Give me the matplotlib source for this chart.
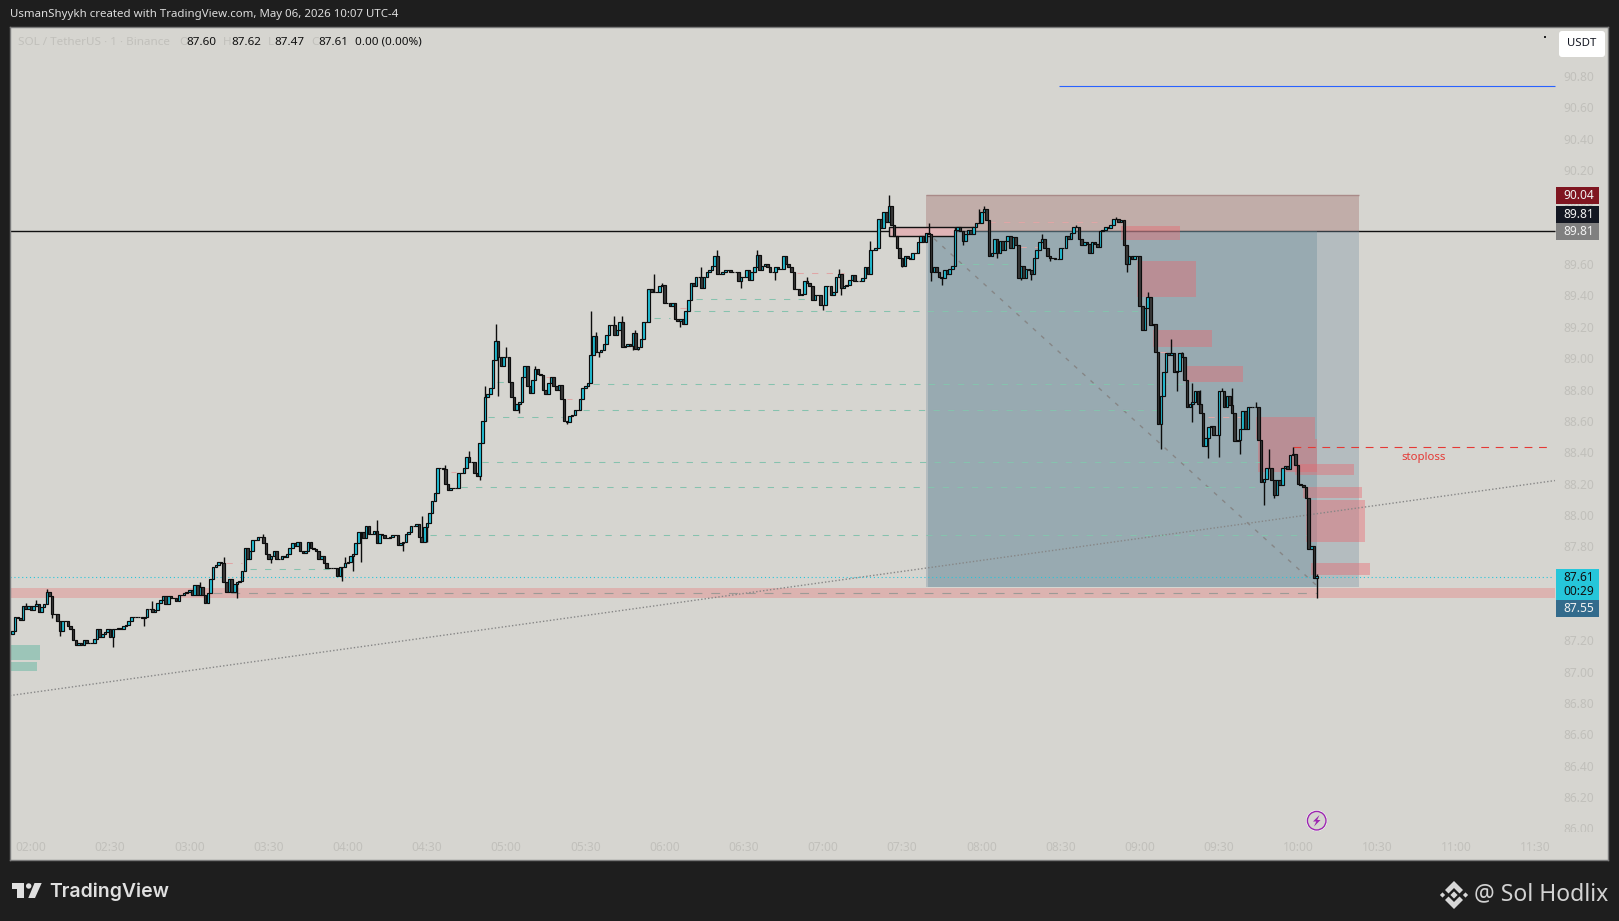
import matplotlib
matplotlib.use('Agg')
import matplotlib.pyplot as plt
from matplotlib.patches import Rectangle, Polygon, Circle, FancyBboxPatch

W, H = 1619, 921
BG = '#d6d5d0'
FRAME = '#1e1e1e'
FAINT = '#c1c0bb'
plt.rcParams['font.family'] = ['Noto Sans', 'DejaVu Sans']

# 1 minute closes, first bar is 01:53 (time in minutes after midnight)
first_bar = 113
closes = [
    87.26, 87.35, 87.34, 87.33, 87.42, 87.40, 87.42, 87.39, 87.42, 87.43, 87.38, 87.41, 87.43, 87.51, 87.48,
    87.37, 87.37, 87.32, 87.26, 87.32, 87.32, 87.29, 87.27, 87.20, 87.17, 87.18, 87.17, 87.20, 87.18, 87.18, 87.18,
    87.21, 87.27, 87.22, 87.24, 87.25, 87.27, 87.22, 87.27, 87.27, 87.28, 87.27, 87.29, 87.30, 87.32, 87.35,
    87.35, 87.35, 87.35, 87.34, 87.35, 87.40, 87.40, 87.38, 87.39, 87.44, 87.46, 87.48, 87.43, 87.48, 87.47, 87.47,
    87.45, 87.49, 87.49, 87.50, 87.51, 87.52, 87.49, 87.55, 87.49, 87.54, 87.49, 87.44, 87.50, 87.59, 87.67,
    87.68, 87.70, 87.69, 87.57, 87.51, 87.59, 87.51, 87.56, 87.57, 87.58, 87.64, 87.79, 87.72, 87.77, 87.84, 87.84,
    87.86, 87.86, 87.82, 87.75, 87.72, 87.74, 87.77, 87.72, 87.72, 87.74, 87.73, 87.75, 87.79, 87.82, 87.80,
    87.83, 87.77, 87.76, 87.77, 87.83, 87.79, 87.78, 87.77, 87.72, 87.74, 87.69, 87.66, 87.66, 87.66, 87.66, 87.61,
    87.67, 87.67, 87.69, 87.70, 87.74, 87.75, 87.82, 87.89, 87.89, 87.85, 87.93, 87.88, 87.88, 87.90, 87.82,
    87.88, 87.87, 87.85, 87.85, 87.86, 87.87, 87.87, 87.81, 87.82, 87.83, 87.88, 87.89, 87.93, 87.93, 87.94, 87.86,
    87.83, 87.92, 87.95, 88.01, 88.09, 88.14, 88.30, 88.30, 88.29, 88.20, 88.16, 88.17, 88.17, 88.17, 88.27, 88.27,
    88.30, 88.37, 88.34, 88.34, 88.27, 88.25, 88.46, 88.60,
    88.75, 88.77, 88.81, 88.99, 89.11, 89.01, 88.95, 89.01, 89.01, 88.85,
    88.75, 88.67, 88.71, 88.72, 88.88, 88.95, 88.82, 88.78, 88.86, 88.93, 88.90, 88.89, 88.80, 88.77, 88.84,
    88.88, 88.82, 88.80, 88.83, 88.74, 88.60, 88.59, 88.63, 88.64, 88.67, 88.67, 88.74, 88.81, 88.82, 88.84,
    89.02, 89.14, 89.04, 89.04, 89.05, 89.09, 89.15, 89.21, 89.21, 89.15, 89.18, 89.23, 89.07, 89.08, 89.09,
    89.08, 89.16, 89.06, 89.07, 89.12, 89.23, 89.23, 89.44, 89.42, 89.42, 89.42, 89.46, 89.47, 89.35, 89.35,
    89.33, 89.35, 89.25, 89.24, 89.25, 89.22, 89.30, 89.37, 89.48, 89.46, 89.52, 89.52, 89.45, 89.52, 89.55,
    89.56, 89.59, 89.65, 89.54, 89.54, 89.55, 89.56, 89.56, 89.55, 89.55, 89.55, 89.49, 89.52, 89.52, 89.56,
    89.50, 89.55, 89.58, 89.66, 89.56, 89.59, 89.60, 89.58, 89.55, 89.55, 89.58, 89.57, 89.57, 89.65, 89.60,
    89.58, 89.55, 89.44, 89.44, 89.40, 89.41, 89.49, 89.48, 89.46, 89.37, 89.40, 89.40, 89.34, 89.34, 89.46,
    89.46, 89.40, 89.42, 89.52, 89.54, 89.45, 89.46, 89.47, 89.50, 89.53, 89.49, 89.49, 89.49, 89.51, 89.58,
    89.54, 89.69, 89.69, 89.70, 89.89, 89.83, 89.93, 89.87, 89.97, 89.85, 89.78, 89.70, 89.64, 89.59, 89.65,
    89.64, 89.63, 89.67, 89.67, 89.74, 89.78, 89.74, 89.80, 89.79,
    89.55, 89.58, 89.55, 89.52, 89.51, 89.56, 89.54, 89.57, 89.59, 89.82, 89.84, 89.81, 89.75, 89.79, 89.82,
    89.79, 89.84, 89.86, 89.86, 89.93, 89.95, 89.88, 89.65, 89.67, 89.76, 89.67, 89.75, 89.69, 89.75, 89.78,
    89.70, 89.77, 89.72, 89.51, 89.59, 89.51, 89.57, 89.56, 89.54, 89.64, 89.69, 89.74, 89.76, 89.70, 89.65,
    89.64, 89.64, 89.63, 89.63, 89.70, 89.70, 89.78, 89.76, 89.80, 89.84, 89.84, 89.76, 89.72, 89.74, 89.73,
    89.67, 89.74, 89.73, 89.71, 89.81, 89.82, 89.84, 89.83, 89.85, 89.89, 89.89, 89.87, 89.88, 89.72, 89.60,
    89.65, 89.63, 89.65, 89.65, 89.33, 89.18, 89.32, 89.39, 89.21, 89.22, 89.04, 88.58, 88.76, 88.91, 89.03,
    89.02, 89.03, 88.91, 88.92, 89.03, 89.01, 88.86, 88.69, 88.71, 88.72, 88.79, 88.71, 88.65, 88.44, 88.49,
    88.56, 88.57, 88.51, 88.51, 88.79, 88.79, 88.69, 88.76, 88.70, 88.65, 88.47, 88.48, 88.55, 88.66, 88.55,
    88.69, 88.69, 88.69, 88.69,
    88.48, 88.21, 88.23, 88.30, 88.30, 88.22, 88.13, 88.22, 88.19, 88.30, 88.31, 88.29, 88.38, 88.39, 88.32,
    88.20, 88.19, 88.18, 88.11, 87.78, 87.80, 87.60, 87.61,
]

# wicks that stick out of the bodies
high_t = [118, 122, 126, 166, 184, 193, 208, 239, 251, 268, 277, 286, 292, 296, 300, 311, 332, 334, 341, 344,
          349, 356, 359, 374, 380, 395, 406, 414, 426, 438, 445, 460, 479, 481, 503, 516, 531, 543, 552, 556,
          560, 563, 571, 575, 584, 589, 598, 607]
high_p = [87.44, 87.46, 87.53, 87.45, 87.57, 87.73, 87.88, 87.73, 87.97, 87.99, 88.32, 88.41, 88.82, 89.22,
          89.07, 88.95, 89.30, 89.17, 89.27, 89.27, 89.18, 89.54, 89.48, 89.58, 89.69, 89.69, 89.65, 89.52,
          89.57, 89.75, 90.04, 89.86, 89.95, 89.97, 89.79, 89.85, 89.90, 89.42, 89.12, 89.04, 88.84, 88.80,
          88.81, 88.81, 88.72, 88.42, 88.43, 87.62]
low_t = [128, 131, 151, 163, 198, 211, 238, 242, 245, 261, 270, 290, 297, 305, 323, 335, 348, 350, 366,
         389, 402, 420, 427, 450, 461, 465, 473, 486, 495, 499, 506, 535, 540, 548, 554, 560, 566, 570, 578,
         587, 591, 607]
low_p = [87.34, 87.23, 87.16, 87.29, 87.47, 87.69, 87.58, 87.64, 87.70, 87.77, 87.83, 88.22, 88.76,
         88.65, 88.58, 89.01, 89.05, 89.05, 89.20, 89.45, 89.50, 89.31, 89.40, 89.58, 89.49, 89.47, 89.72,
         89.64, 89.50, 89.50, 89.62, 89.55, 89.33, 88.42, 88.79, 88.59, 88.36, 88.37, 88.39, 88.06, 88.11,
         87.47]

# pink boxes: start, end, top, bottom
fvg_t0 = [533, 539, 545, 557, 584, 585, 599, 602, 603, 605]
fvg_t1 = [555.2, 561.3, 567.4, 579.1, 606.4, 607.1, 621.1, 624.2, 625.3, 627.2]
fvg_hi = [89.843, 89.62, 89.18, 88.95, 88.625, 88.484, 88.325, 88.178, 88.095, 87.693]
fvg_lo = [89.754, 89.39, 89.071, 88.848, 88.484, 88.274, 88.254, 88.108, 87.827, 87.617]

# thin dashed levels
green_p = [88.623, 88.336, 88.176, 87.87, 87.653, 89.375, 89.299, 89.256, 88.833, 88.667, 88.848, 89.599]
green_t0 = [293, 291, 283, 271, 203, 372, 371, 356, 333, 329, 296.5, 471]
green_t1 = [321, 585.5, 585.5, 603, 233.5, 416, 540, 362, 557, 546.5, 301.4, 493.5]
red_p = [87.693, 88.274, 89.543, 89.32, 88.88, 88.74, 89.869, 89.709, 89.04, 88.625]
red_t0 = [194, 279, 410, 366, 315, 323, 483, 494.6, 547.7, 565.8]
red_t1 = [200, 281, 428, 368, 316.6, 325, 524, 501.4, 551.4, 579.8]

# volume-ish boxes on the far left
left_t1 = [123.4, 122.2]
left_hi = [87.17, 87.062]
left_lo = [87.074, 87.004]

time_ticks = list(range(120, 691, 30))
time_labels = ['02:00', '02:30', '03:00', '03:30', '04:00', '04:30', '05:00', '05:30', '06:00', '06:30',
               '07:00', '07:30', '08:00', '08:30', '09:00', '09:30', '10:00', '10:30', '11:00', '11:30']
price_ticks = [86.0 + 0.2 * i for i in range(25)]

times = [first_bar + i for i in range(len(closes))]
opens = [87.24] + closes[:-1]
highs = [max(o, c) for o, c in zip(opens, closes)]
lows = [min(o, c) for o, c in zip(opens, closes)]
for t, p in zip(high_t, high_p):
    highs[t - first_bar] = max(highs[t - first_bar], p)
for t, p in zip(low_t, low_p):
    lows[t - first_bar] = min(lows[t - first_bar], p)

fig = plt.figure(figsize=(W / 100, H / 100), dpi=100, facecolor=FRAME)
ax = fig.add_axes([10 / W, (H - 860) / H, 1598 / W, 833 / H], facecolor=BG)
ax.set_xlim(112.05, 717.4)
ax.set_ylim(85.798, 91.113)
for s in ax.spines.values():
    s.set_color('#7a7a7a')
    s.set_linewidth(1)

# main levels
ax.hlines(89.81, 112, 697.3, color='#111111', lw=1, zorder=1)
ax.hlines(90.734, 509.4, 697.3, color='#2962ff', lw=0.8, zorder=1)

# short position
ax.add_patch(Rectangle((459, 89.81), 163.9, 0.23, fc='#935351', alpha=0.3, ec='none', zorder=1.2))
ax.hlines(90.04, 459, 622.9, color='#a98a88', lw=1, zorder=1.3)
ax.add_patch(Rectangle((459, 87.542), 163.9, 2.268, fc='#758ea2', alpha=0.35, ec='none', zorder=1.2))
ax.add_patch(Rectangle((459.8, 87.542), 147.2, 2.268, fc='#648b98', alpha=0.35, ec='none', zorder=1.2))
ax.plot([459, 607], [89.81, 87.55], color='#868686', lw=1, ls=(0, (3, 5)), zorder=2)

# pink boxes
for t0, t1, hi, lo in zip(fvg_t0, fvg_t1, fvg_hi, fvg_lo):
    ax.add_patch(Rectangle((t0, lo), t1 - t0, hi - lo, fc='#eb646c', alpha=0.4, ec='none', zorder=1.5))

# support band
ax.add_patch(Rectangle((112, 87.47), 585.3, 0.065, fc='#eb6768', alpha=0.3, ec='none', zorder=1.6))
ax.hlines(87.50, 189, 607, color='#9c9a96', lw=0.8, ls=(0, (8, 8)), zorder=1.7)

# left boxes
for t1, hi, lo in zip(left_t1, left_hi, left_lo):
    ax.add_patch(Rectangle((112, lo), t1 - 112, hi - lo, fc='#9cc5b8', ec='none', zorder=1.5))

# outlined box near 07:30
ax.add_patch(Rectangle((445, 89.78), 25, 0.06, fc='#e0b4b6', ec='#111111', lw=1, zorder=2.5))
ax.hlines(89.84, 470, 477.2, color='#111111', lw=1, zorder=2.5)

ax.hlines(green_p, green_t0, green_t1, color='#86c2ae', lw=0.75, ls=(0, (6, 8)), zorder=2)
ax.hlines(red_p, red_t0, red_t1, color='#e0a6a6', lw=0.75, ls=(0, (6, 8)), zorder=2)

# trend, current price, stop
ax.plot([112, 697.3], [86.847, 88.219], color='#868686', lw=1, ls=(0, (1, 1.5)), zorder=2)
ax.hlines(87.605, 112, 696.5, color='#26c6da', lw=0.8, ls=(0, (1, 2.5)), zorder=2)
ax.hlines(88.431, 597.9, 695.4, color='#e53935', lw=0.8, ls=(0, (7, 6)), zorder=2)
ax.text(647.6, 88.369, 'stoploss', color='#e53935', fontsize=8.2, ha='center', va='center', zorder=6)

# candles
ax.vlines(times, lows, highs, color='#0c0c0c', lw=1, zorder=3)
up = [i for i in range(len(closes)) if closes[i] >= opens[i]]
down = [i for i in range(len(closes)) if closes[i] < opens[i]]
ax.bar([times[i] for i in up], [closes[i] - opens[i] for i in up], bottom=[opens[i] for i in up], width=0.95,
       color='#22c5dc', edgecolor='#0c0c0c', linewidth=0.85, zorder=4)
ax.bar([times[i] for i in down], [opens[i] - closes[i] for i in down], bottom=[closes[i] for i in down], width=0.95,
       color='#3a3a3a', edgecolor='#0c0c0c', linewidth=0.85, zorder=4)

# axes labels sit inside the pane
ax.set_xticks(time_ticks)
ax.set_xticklabels(time_labels)
ax.set_yticks(price_ticks)
ax.set_yticklabels(['%.2f' % p for p in price_ticks])
ax.yaxis.tick_right()
ax.tick_params(axis='x', length=0, pad=-13.5, labelsize=8.6, labelcolor=FAINT)
ax.tick_params(axis='y', length=0, pad=-32, labelsize=8.6, labelcolor=FAINT)
for label in ax.get_yticklabels():
    label.set_verticalalignment('center_baseline')

# overlay in pixels for the tradingview chrome
ov = fig.add_axes([0, 0, 1, 1], facecolor='none')
ov.set_xlim(0, W)
ov.set_ylim(H, 0)
ov.axis('off')

ov.text(10, 15, 'UsmanShyykh created with TradingView.com, May 06, 2026 10:07 UTC-4',
        color='#dcdcdc', fontsize=8.25, va='center')

ov.text(17.5, 42.5, 'SOL / TetherUS · 1 · Binance', color=FAINT, fontsize=8.4, va='center')
legend_letters = ['O', 'H', 'L', 'C']
legend_letter_x = [179, 223, 268, 311.7]
legend_values = ['87.60', '87.62', '87.47', '87.61', '0.00 (0.00%)']
legend_value_x = [186.7, 231.7, 274.3, 318.3, 355]
for s, x in zip(legend_letters, legend_letter_x):
    ov.text(x, 42.5, s, color=FAINT, fontsize=8.4, va='center')
for s, x in zip(legend_values, legend_value_x):
    ov.text(x, 42.5, s, color='#111111', fontsize=8.4, va='center')

# price scale tags
ov.add_patch(Rectangle((1556, 832), 50, 27, fc=BG, ec='none'))
tags = ['90.04', '89.81', '89.81', '87.55']
tag_top = [187, 206, 223, 600]
tag_bot = [204, 222.7, 240, 617]
tag_col = ['#7f1520', '#131722', '#808080', '#336b8c']
for s, y0, y1, c in zip(tags, tag_top, tag_bot, tag_col):
    ov.add_patch(Rectangle((1556, y0), 43, y1 - y0, fc=c, ec='none'))
    ov.text(1579, (y0 + y1) / 2, s, color='#f2f2f2', fontsize=8.6, fontweight='bold', ha='center', va='center')
ov.add_patch(Rectangle((1556, 569), 43, 31, fc='#26c6da', ec='none'))
ov.text(1579, 577.5, '87.61', color='#111111', fontsize=8.6, ha='center', va='center')
ov.text(1579, 591.5, '00:29', color='#111111', fontsize=8.6, ha='center', va='center')

ov.add_patch(FancyBboxPatch((1561, 33), 42, 22, boxstyle='round,pad=2,rounding_size=3', fc='white', ec='none'))
ov.text(1582, 44, 'USDT', color='#131722', fontsize=8.2, ha='center', va='center')
ov.add_patch(Rectangle((1544, 36), 2, 2, fc='#222222', ec='none'))

# lightning badge
ov.add_patch(Circle((1316.7, 820.7), 10.5, fc='white', ec='none'))
ov.add_patch(Circle((1316.7, 820.7), 9.3, fc=BG, ec='#9c27b0', lw=1))
ov.add_patch(Polygon([(1319.5, 815), (1313, 821.5), (1316.3, 821.5), (1314, 826.5), (1320.5, 820), (1317.2, 820)],
                     fc='#9c27b0', ec='none'))

# tradingview logo and name
ov.add_patch(Polygon([(12, 883), (24, 883), (24, 898), (17.3, 898), (17.3, 889), (12, 889)], fc='#e0e0e0', ec='none'))
ov.add_patch(Circle((28.7, 886), 2.7, fc='#e0e0e0', ec='none'))
ov.add_patch(Polygon([(34.5, 883), (41.7, 883), (35, 898), (28.3, 898)], fc='#e0e0e0', ec='none'))
ov.text(49, 891.5, 'TradingView', color='#e0e0e0', fontsize=14, fontweight='semibold', family=['Inter', 'DejaVu Sans'],
        va='center')

# binance mark and handle
bx, by = 1454, 895
top = [(0, -14), (9, -5), (5.5, -1.5), (0, -7), (-5.5, -1.5), (-9, -5)]
ov.add_patch(Polygon([(bx + a, by + b) for a, b in top], fc='#d8d8d8', ec='none'))
ov.add_patch(Polygon([(bx + a, by - b) for a, b in top], fc='#d8d8d8', ec='none'))
for cx, r in zip([-11.5, 0, 11.5], [2.6, 3.6, 2.6]):
    ov.add_patch(Polygon([(bx + cx - r, by), (bx + cx, by - r), (bx + cx + r, by), (bx + cx, by + r)],
                         fc='#d8d8d8', ec='none'))
ov.text(1474, 894, '@ Sol Hodlix', color='#d2d2d2', fontsize=16.5, va='center')

fig.savefig('out.png', dpi=100, facecolor=FRAME)
